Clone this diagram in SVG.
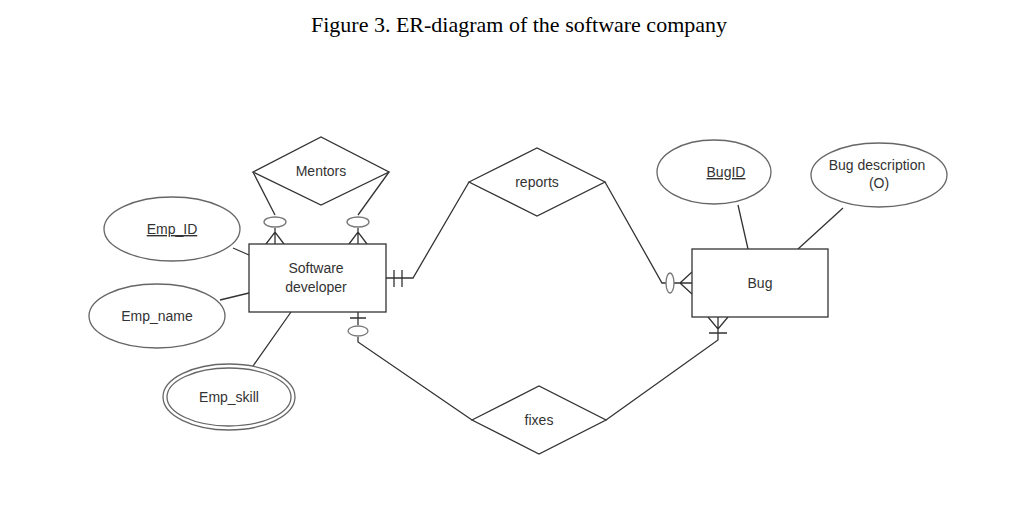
<svg xmlns="http://www.w3.org/2000/svg" width="1024" height="511" viewBox="0 0 1024 511">
<style>
.s{fill:#fff;stroke:#333;stroke-width:1.3}
.a{fill:#fff;stroke:#666;stroke-width:1.3}
.l{fill:none;stroke:#333;stroke-width:1.3}
.o{fill:#fff;stroke:#777;stroke-width:1.3}
text{font-family:"Liberation Sans",Arial,sans-serif;font-size:14px;fill:#333;text-anchor:middle}
</style>
<rect width="1024" height="511" fill="#fff"/>
<text x="519" y="32" style="font-family:'Liberation Serif',serif;font-size:22px;fill:#000">Figure 3. ER-diagram of the software company</text>
<g id="connectors">
<path class="l" d="M253,172 L275,215 M275,228 V244 M266,244 L275,232 L284,244"/>
<ellipse class="o" cx="275" cy="222" rx="11" ry="5"/>
<path class="l" d="M389,172 L358,215 M358,228 V244 M349,244 L358,232 L367,244"/>
<ellipse class="o" cx="358" cy="222" rx="11" ry="5"/>
<path class="l" d="M386,278 H413 L469,182 M394,270 V287 M402,270 V287"/>
<path class="l" d="M605,182 L662,283 H692 M692,272 L680,283 L692,294"/>
<ellipse class="o" cx="670" cy="283" rx="4" ry="10"/>
<path class="l" d="M718,317 V340 L606,420 M708,317 L718,329 L728,317 M709,333 H727"/>
<path class="l" d="M358,312 V325 M350,318 H366 M358,337 V342 L472,420"/>
<ellipse class="o" cx="358" cy="331" rx="10" ry="5"/>
<path class="l" d="M233,248 L249,255 M220,300 L249,293 M253,366 L291,312 M738,205 L748,249 M843,208 L798,249"/>
</g>
<g id="mentors"><polygon class="s" points="253,172 321,137 389,172 321,205"/><text x="321" y="176">Mentors</text></g>
<g id="reports"><polygon class="s" points="469,182 537,148 605,182 537,216"/><text x="537" y="187">reports</text></g>
<g id="fixes"><polygon class="s" points="472,420 539,386 606,420 539,454"/><text x="539" y="425">fixes</text></g>
<g id="developer"><rect class="s" x="249" y="244" width="137" height="68"/><text x="316" y="273">Software</text><text x="316" y="292">developer</text></g>
<g id="bug"><rect class="s" x="692" y="249" width="136" height="68"/><text x="760" y="288">Bug</text></g>
<g id="emp_id"><ellipse class="a" cx="172" cy="229" rx="68" ry="32"/><text x="172" y="234" text-decoration="underline">Emp_ID</text></g>
<g id="emp_name"><ellipse class="a" cx="157" cy="316" rx="68" ry="32"/><text x="157" y="321">Emp_name</text></g>
<g id="emp_skill"><ellipse class="a" cx="229" cy="397" rx="66" ry="33"/><ellipse class="a" cx="229" cy="397" rx="62" ry="29"/><text x="229" y="402">Emp_skill</text></g>
<g id="bugid"><ellipse class="a" cx="714" cy="172" rx="57" ry="32"/><text x="726" y="177" text-decoration="underline">BugID</text></g>
<g id="bugdesc"><ellipse class="a" cx="879" cy="175" rx="68" ry="32"/><text x="877" y="170">Bug description</text><text x="879" y="188">(O)</text></g>
</svg>
